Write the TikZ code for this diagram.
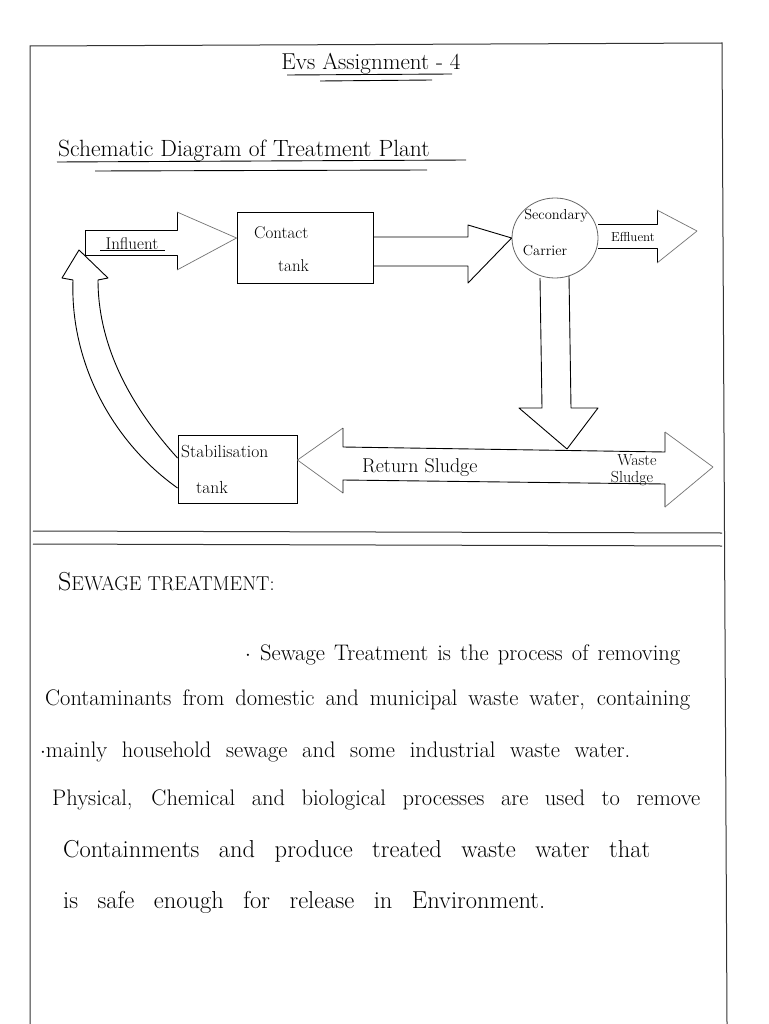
\documentclass[tikz,border=0pt]{standalone}
\usetikzlibrary{shapes.geometric}
\begin{document}
\begin{tikzpicture}[x=1pt,y=-1pt,
  pen/.style={draw=black, line width=0.9pt, line join=round},
  pencil/.style={draw=black!55, line width=0.7pt, line join=round},
  frame/.style={draw=black!80, line width=1pt},
  tankbox/.style={draw=black, line width=0.9pt, rectangle, inner sep=0pt},
  lbl/.style={font=\fontsize{17}{19}\selectfont, inner sep=0pt},
  body/.style={font=\fontsize{22.5}{25}\selectfont, anchor=base west, inner sep=0pt},
  bigbody/.style={font=\fontsize{24.5}{27}\selectfont, anchor=base west, inner sep=0pt}]
\useasboundingbox (0,0) rectangle (768,1024);
\fill[white] (0,0) rectangle (768,1024);

% page frame
\draw[frame] (30,1024) -- (30,46) -- (722,43) -- (727,1024);
\draw[frame] (33,531) -- (722,533);
\draw[frame] (33,544) -- (722,546);

% headings
\node[font=\fontsize{23}{25}\selectfont, anchor=base, inner sep=0pt] (title) at (371,70) {Evs Assignment - 4};
\draw[pen] (287,75) -- (452,74);
\draw[pen] (320,81) -- (432,80);
\node[font=\fontsize{23.5}{26}\selectfont, anchor=base west, inner sep=0pt] (subtitle) at (58,157) {Schematic Diagram of Treatment Plant};
\draw[pen] (57,162) -- (466,160);
\draw[pen] (95,171) -- (427,170);

% nodes
\node[tankbox, minimum width=136pt, minimum height=71pt] (contact) at (305,247.5) {};
\node[lbl, anchor=base west] (contactA) at (254,239) {Contact};
\node[lbl, anchor=base west] (contactB) at (278,271) {tank};
\node[ellipse, draw=black!60, line width=0.8pt, minimum width=86pt, minimum height=80pt, inner sep=0pt] (clar) at (555,238) {};
\node[lbl, font=\fontsize{14.5}{16}\selectfont, anchor=base] (clarA) at (556,220) {Secondary};
\node[lbl, font=\fontsize{14.5}{16}\selectfont, anchor=base] (clarB) at (545,255) {Carrier};
\node[tankbox, minimum width=119pt, minimum height=68pt] (stab) at (237.5,469) {};
\node[lbl, font=\fontsize{17.5}{19}\selectfont, anchor=base west] (stabA) at (181,457) {Stabilisation};
\node[lbl, font=\fontsize{17.5}{19}\selectfont, anchor=base west] (stabB) at (196,493) {tank};

% influent block arrow
\coordinate (inTip) at (contact.west |- 0,238);
\draw[pen] (85,255) -- (85,230) -- (177,230) -- (177,212);
\draw[pen] (85,255) -- (177,255) -- (177,270);
\draw[pencil] (177,212) -- (inTip) -- (177,270);
\node[lbl, anchor=base] (infl) at (132,249) {Influent};
\draw[pen] (100,250) -- (165,250);

% contact -> clarifier block arrow
\coordinate (cTip) at (clar.west);
\draw[pen] (contact.east |- 0,237) -- (468,237) -- (468,225) -- (cTip) -- (468,283) -- (468,266) -- (contact.east |- 0,266);

% effluent block arrow
\draw[pen] (clar.east |- 0,224) -- (657,224) -- (657,210);
\draw[pen] (clar.east |- 0,248) -- (657,248) -- (657,263);
\draw[pencil] (657,210) -- (697,231) -- (657,263);
\node[lbl, font=\fontsize{13}{15}\selectfont, anchor=base] (effl) at (633,241) {Effluent};

% clarifier -> sludge line (down block arrow)
\coordinate (dTip) at (567,449);
\draw[pen] (540,278) -- (542,408) -- (519,408) -- (dTip) -- (598,408) -- (571,408) -- (569,276);

% return / waste sludge double block arrow
\draw[pencil] (343,428) -- (stab.east |- 0,460) -- (343,493);
\draw[pen] (343,428) -- (343,447) -- (665,452) -- (665,432);
\draw[pen] (343,493) -- (343,480) -- (665,484) -- (665,507);
\draw[pencil] (665,432) -- (713,467) -- (665,507);
\node[lbl, font=\fontsize{20}{22}\selectfont, anchor=base west] (ret) at (362,472) {Return Sludge};
\node[lbl, font=\fontsize{16}{18}\selectfont, anchor=base] (wasteA) at (637,465) {Waste};
\node[lbl, font=\fontsize{16}{18}\selectfont, anchor=base] (wasteB) at (632,482) {Sludge};

% stabilisation -> influent curved block arrow
\draw[pen] (stab.west |- 0,488) .. controls (110,440) and (70,360) .. (73,280)
  -- (62,278) -- (79,250) -- (108,278) -- (98,280)
  .. controls (98,340) and (125,400) .. (stab.west |- 0,458);

% text section
\node[font=\fontsize{26}{28}\selectfont, anchor=base west, inner sep=0pt] (heading) at (58,590) {S\fontsize{20}{22}\selectfont EWAGE TREATMENT:};
\node[body] (l1) at (245,660) {\makebox[435pt][s]{$\cdot$ Sewage Treatment is the process of removing}};
\node[body] (l2) at (45,705) {\makebox[645pt][s]{Contaminants from domestic and municipal waste water, containing}};
\node[body] (l3) at (40,757) {\makebox[590pt][s]{$\cdot$mainly household sewage and some industrial waste water.}};
\node[body] (l4) at (52,805) {\makebox[648pt][s]{Physical, Chemical and biological processes are used to remove}};
\node[bigbody] (l5) at (63,857) {\makebox[587pt][s]{Containments and produce treated waste water that}};
\node[bigbody] (l6) at (63,908) {\makebox[482pt][s]{is safe enough for release in Environment.}};
\end{tikzpicture}
\end{document}
